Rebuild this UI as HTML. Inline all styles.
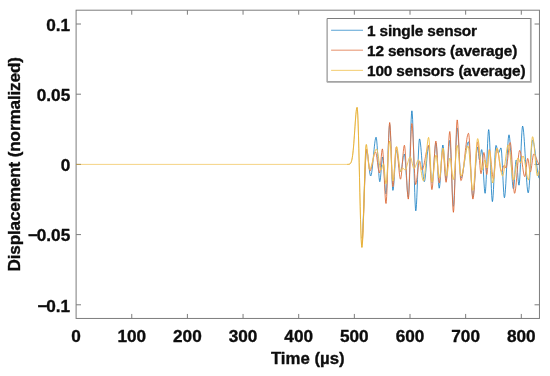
<!DOCTYPE html>
<html><head><meta charset="utf-8"><title>Displacement plot</title>
<style>html,body{margin:0;padding:0;background:#fff}svg{display:block}text{font-family:"Liberation Sans",sans-serif;font-weight:bold;fill:#0d0d0d;stroke:#0d0d0d;stroke-width:0.35px;stroke-linejoin:round}</style></head><body>
<svg width="550" height="376" viewBox="0 0 550 376">
<rect width="550" height="376" fill="#fff"/>
<g stroke="#7c7c7c" stroke-width="1.0" fill="none">
<rect x="76.1" y="10.2" width="463.35" height="308.25"/>
<path d="M131.75,318.45 v-4.5 M131.75,10.2 v4.5"/>
<path d="M187.40,318.45 v-4.5 M187.40,10.2 v4.5"/>
<path d="M243.05,318.45 v-4.5 M243.05,10.2 v4.5"/>
<path d="M298.70,318.45 v-4.5 M298.70,10.2 v4.5"/>
<path d="M354.35,318.45 v-4.5 M354.35,10.2 v4.5"/>
<path d="M410.00,318.45 v-4.5 M410.00,10.2 v4.5"/>
<path d="M465.65,318.45 v-4.5 M465.65,10.2 v4.5"/>
<path d="M521.30,318.45 v-4.5 M521.30,10.2 v4.5"/>
<path d="M76.1,24.00 h4.9 M539.45,24.00 h-4.9"/>
<path d="M76.1,94.20 h4.9 M539.45,94.20 h-4.9"/>
<path d="M76.1,164.40 h4.9 M539.45,164.40 h-4.9"/>
<path d="M76.1,234.60 h4.9 M539.45,234.60 h-4.9"/>
<path d="M76.1,304.80 h4.9 M539.45,304.80 h-4.9"/>
</g>
<clipPath id="c"><rect x="76.1" y="10.2" width="463.35" height="308.25"/></clipPath>
<g clip-path="url(#c)" fill="none" stroke-linejoin="round">
<path d="M361.90,238.00 L362.25,236.52 L362.61,232.39 L362.96,226.10 L363.32,218.13 L363.67,208.96 L364.02,199.07 L364.38,188.93 L364.73,179.04 L365.08,169.87 L365.44,161.90 L365.79,155.61 L366.15,151.48 L366.50,150.00 L366.85,150.51 L367.20,151.93 L367.55,154.06 L367.90,156.74 L368.25,159.78 L368.60,163.00 L368.95,166.22 L369.30,169.26 L369.65,171.94 L370.00,174.07 L370.35,175.49 L370.70,176.00 L371.04,175.56 L371.38,174.33 L371.71,172.42 L372.05,169.94 L372.39,167.00 L372.73,163.72 L373.06,160.22 L373.40,156.60 L373.74,152.98 L374.07,149.48 L374.41,146.20 L374.75,143.26 L375.09,140.78 L375.43,138.87 L375.76,137.64 L376.10,137.20 L376.44,138.24 L376.77,141.08 L377.11,145.32 L377.45,150.57 L377.78,156.42 L378.12,162.48 L378.45,168.33 L378.79,173.58 L379.13,177.82 L379.46,180.66 L379.80,181.70 L380.15,180.64 L380.50,177.84 L380.85,173.88 L381.20,169.35 L381.55,164.82 L381.90,160.86 L382.25,158.06 L382.60,157.00 L382.94,158.04 L383.28,160.85 L383.62,164.99 L383.96,170.02 L384.30,175.50 L384.64,180.98 L384.98,186.01 L385.32,190.15 L385.66,192.96 L386.00,194.00 L386.34,192.38 L386.67,187.94 L387.01,181.31 L387.35,173.11 L387.68,163.98 L388.02,154.52 L388.35,145.39 L388.69,137.19 L389.03,130.56 L389.36,126.12 L389.70,124.50 L390.06,126.76 L390.41,132.82 L390.77,141.59 L391.12,151.98 L391.48,162.92 L391.83,173.31 L392.19,182.08 L392.54,188.14 L392.90,190.40 L393.26,189.27 L393.62,186.20 L393.98,181.67 L394.34,176.18 L394.70,170.20 L395.06,164.22 L395.42,158.73 L395.78,154.20 L396.14,151.13 L396.50,150.00 L396.83,150.43 L397.17,151.63 L397.50,153.44 L397.83,155.70 L398.17,158.28 L398.50,161.00 L398.83,163.72 L399.17,166.30 L399.50,168.56 L399.83,170.37 L400.17,171.57 L400.50,172.00 L400.85,171.58 L401.19,170.43 L401.54,168.71 L401.88,166.59 L402.23,164.22 L402.57,161.78 L402.92,159.41 L403.26,157.29 L403.61,155.57 L403.95,154.42 L404.30,154.00 L404.63,154.85 L404.97,157.19 L405.30,160.72 L405.63,165.15 L405.97,170.17 L406.30,175.50 L406.63,180.83 L406.97,185.85 L407.30,190.28 L407.63,193.81 L407.97,196.15 L408.30,197.00 L408.66,194.59 L409.02,188.04 L409.38,178.38 L409.74,166.66 L410.10,153.90 L410.46,141.14 L410.82,129.42 L411.18,119.76 L411.54,113.21 L411.90,110.80 L412.25,113.13 L412.61,119.52 L412.96,129.06 L413.32,140.85 L413.67,154.00 L414.03,167.60 L414.38,180.75 L414.74,192.54 L415.09,202.08 L415.45,208.47 L415.80,210.80 L416.14,209.13 L416.47,204.53 L416.81,197.67 L417.15,189.19 L417.48,179.74 L417.82,169.96 L418.15,160.51 L418.49,152.03 L418.83,145.17 L419.16,140.57 L419.50,138.90 L419.84,139.52 L420.19,141.27 L420.53,143.94 L420.87,147.37 L421.21,151.35 L421.56,155.71 L421.90,160.25 L422.24,164.79 L422.59,169.15 L422.93,173.13 L423.27,176.56 L423.61,179.23 L423.96,180.98 L424.30,181.60 L424.66,180.90 L425.02,178.96 L425.38,176.04 L425.73,172.37 L426.09,168.21 L426.45,163.80 L426.81,159.39 L427.17,155.23 L427.53,151.56 L427.88,148.64 L428.24,146.70 L428.60,146.00 L428.94,147.04 L429.28,149.85 L429.62,153.99 L429.96,159.02 L430.30,164.50 L430.64,169.98 L430.98,175.01 L431.32,179.15 L431.66,181.96 L432.00,183.00 L432.33,182.21 L432.67,180.04 L433.00,176.75 L433.33,172.63 L433.67,167.95 L434.00,163.00 L434.33,158.05 L434.67,153.37 L435.00,149.25 L435.33,145.96 L435.67,143.79 L436.00,143.00 L436.36,144.55 L436.71,148.70 L437.07,154.72 L437.42,161.85 L437.78,169.35 L438.13,176.48 L438.49,182.50 L438.84,186.65 L439.20,188.20 L439.54,187.19 L439.87,184.44 L440.21,180.31 L440.55,175.22 L440.88,169.54 L441.22,163.66 L441.55,157.98 L441.89,152.89 L442.23,148.76 L442.56,146.01 L442.90,145.00 L443.26,146.20 L443.61,149.42 L443.97,154.07 L444.32,159.60 L444.68,165.40 L445.03,170.93 L445.39,175.58 L445.74,178.80 L446.10,180.00 L446.44,179.08 L446.77,176.54 L447.11,172.75 L447.45,168.07 L447.78,162.85 L448.12,157.45 L448.45,152.23 L448.79,147.55 L449.13,143.76 L449.46,141.22 L449.80,140.30 L450.16,142.15 L450.52,147.17 L450.88,154.58 L451.24,163.57 L451.60,173.35 L451.96,183.13 L452.32,192.12 L452.68,199.53 L453.04,204.55 L453.40,206.40 L453.75,204.57 L454.09,199.56 L454.44,192.07 L454.78,182.81 L455.13,172.49 L455.47,161.81 L455.82,151.49 L456.16,142.23 L456.51,134.74 L456.85,129.73 L457.20,127.90 L457.55,129.07 L457.89,132.27 L458.24,137.05 L458.58,142.96 L458.93,149.54 L459.27,156.36 L459.62,162.94 L459.96,168.85 L460.31,173.63 L460.65,176.83 L461.00,178.00 L461.34,177.78 L461.68,177.16 L462.02,176.16 L462.36,174.85 L462.70,173.24 L463.05,171.39 L463.39,169.34 L463.73,167.12 L464.07,164.78 L464.41,162.36 L464.75,159.90 L465.09,157.44 L465.43,155.02 L465.77,152.68 L466.11,150.46 L466.45,148.41 L466.80,146.56 L467.14,144.95 L467.48,143.64 L467.82,142.64 L468.16,142.02 L468.50,141.80 L468.84,142.73 L469.18,145.32 L469.52,149.26 L469.85,154.26 L470.19,160.02 L470.53,166.22 L470.87,172.58 L471.21,178.78 L471.55,184.54 L471.88,189.54 L472.22,193.48 L472.56,196.07 L472.90,197.00 L473.25,196.16 L473.61,193.81 L473.96,190.24 L474.32,185.71 L474.67,180.50 L475.02,174.88 L475.38,169.12 L475.73,163.50 L476.08,158.29 L476.44,153.76 L476.79,150.19 L477.15,147.84 L477.50,147.00 L477.83,147.96 L478.17,150.37 L478.50,153.50 L478.83,156.63 L479.17,159.04 L479.50,160.00 L479.87,159.23 L480.23,157.30 L480.60,154.80 L480.97,152.30 L481.33,150.37 L481.70,149.60 L482.04,150.82 L482.38,154.14 L482.72,159.04 L483.06,164.98 L483.40,171.45 L483.74,177.92 L484.08,183.86 L484.42,188.76 L484.76,192.08 L485.10,193.30 L485.46,191.52 L485.82,186.68 L486.18,179.54 L486.54,170.88 L486.90,161.45 L487.26,152.02 L487.62,143.36 L487.98,136.22 L488.34,131.38 L488.70,129.60 L489.04,131.28 L489.37,135.87 L489.71,142.75 L490.05,151.24 L490.38,160.70 L490.72,170.50 L491.05,179.96 L491.39,188.45 L491.73,195.33 L492.06,199.92 L492.40,201.60 L492.76,200.03 L493.12,195.76 L493.48,189.46 L493.84,181.82 L494.20,173.50 L494.56,165.18 L494.92,157.54 L495.28,151.24 L495.64,146.97 L496.00,145.40 L496.36,145.82 L496.71,146.91 L497.07,148.39 L497.43,150.01 L497.79,151.49 L498.14,152.58 L498.50,153.00 L498.86,152.72 L499.21,151.99 L499.57,150.99 L499.93,149.91 L500.29,148.91 L500.64,148.18 L501.00,147.90 L501.34,149.29 L501.68,153.08 L502.02,158.66 L502.36,165.43 L502.70,172.80 L503.04,180.17 L503.38,186.94 L503.72,192.52 L504.06,196.31 L504.40,197.70 L504.75,196.64 L505.11,193.69 L505.46,189.20 L505.82,183.50 L506.17,176.94 L506.52,169.87 L506.88,162.63 L507.23,155.56 L507.58,149.00 L507.94,143.30 L508.29,138.81 L508.65,135.86 L509.00,134.80 L509.34,135.71 L509.68,138.25 L510.02,142.11 L510.35,147.01 L510.69,152.65 L511.03,158.74 L511.37,164.96 L511.71,171.05 L512.05,176.69 L512.38,181.59 L512.72,185.45 L513.06,187.99 L513.40,188.90 L513.75,187.66 L514.10,184.38 L514.45,179.76 L514.80,174.45 L515.15,169.14 L515.50,164.52 L515.85,161.24 L516.20,160.00 L516.55,161.08 L516.90,163.94 L517.25,167.97 L517.60,172.60 L517.95,177.23 L518.30,181.26 L518.65,184.12 L519.00,185.20 L519.36,183.55 L519.72,179.05 L520.08,172.43 L520.44,164.40 L520.80,155.65 L521.16,146.90 L521.52,138.87 L521.88,132.25 L522.24,127.75 L522.60,126.10 L522.95,126.85 L523.30,128.97 L523.65,132.26 L524.00,136.52 L524.35,141.57 L524.70,147.20 L525.05,153.23 L525.40,159.45 L525.75,165.67 L526.10,171.70 L526.45,177.33 L526.80,182.38 L527.15,186.64 L527.50,189.93 L527.85,192.05 L528.20,192.80 L528.54,191.92 L528.88,189.45 L529.22,185.70 L529.55,180.95 L529.89,175.48 L530.23,169.57 L530.57,163.53 L530.91,157.62 L531.25,152.15 L531.58,147.40 L531.92,143.65 L532.26,141.18 L532.60,140.30 L532.95,140.58 L533.29,141.37 L533.63,142.62 L533.98,144.27 L534.33,146.27 L534.67,148.55 L535.01,151.06 L535.36,153.75 L535.71,156.54 L536.05,159.40 L536.39,162.26 L536.74,165.05 L537.09,167.74 L537.43,170.25 L537.77,172.53 L538.12,174.53 L538.47,176.18 L538.81,177.43 L539.15,178.22 L539.50,178.50" stroke="#0072BD" stroke-width="0.9" stroke-opacity="0.85"/>
<path d="M361.90,243.70 L362.24,242.32 L362.57,238.45 L362.91,232.52 L363.24,224.93 L363.58,216.09 L363.91,206.43 L364.25,196.35 L364.59,186.27 L364.92,176.61 L365.26,167.77 L365.59,160.18 L365.93,154.25 L366.26,150.38 L366.60,149.00 L366.94,149.61 L367.28,151.27 L367.62,153.71 L367.96,156.67 L368.30,159.90 L368.64,163.13 L368.98,166.09 L369.32,168.53 L369.66,170.19 L370.00,170.80 L370.34,170.59 L370.69,169.99 L371.03,169.07 L371.38,167.86 L371.72,166.44 L372.06,164.85 L372.41,163.15 L372.75,161.40 L373.09,159.65 L373.44,157.95 L373.78,156.36 L374.12,154.94 L374.47,153.73 L374.81,152.81 L375.16,152.21 L375.50,152.00 L375.83,152.41 L376.17,153.56 L376.50,155.28 L376.83,157.44 L377.17,159.90 L377.50,162.50 L377.83,165.10 L378.17,167.56 L378.50,169.72 L378.83,171.44 L379.17,172.59 L379.50,173.00 L379.86,171.96 L380.23,169.23 L380.59,165.37 L380.95,160.95 L381.31,156.53 L381.67,152.67 L382.04,149.94 L382.40,148.90 L382.76,150.43 L383.12,154.58 L383.48,160.69 L383.84,168.12 L384.20,176.20 L384.56,184.28 L384.92,191.71 L385.28,197.82 L385.64,201.97 L386.00,203.50 L386.34,201.61 L386.67,196.44 L387.01,188.71 L387.35,179.16 L387.68,168.51 L388.02,157.49 L388.35,146.84 L388.69,137.29 L389.03,129.56 L389.36,124.39 L389.70,122.50 L390.06,124.70 L390.41,130.60 L390.77,139.14 L391.12,149.27 L391.48,159.93 L391.83,170.06 L392.19,178.60 L392.54,184.50 L392.90,186.70 L393.24,185.59 L393.58,182.57 L393.92,178.12 L394.26,172.73 L394.60,166.85 L394.94,160.97 L395.28,155.58 L395.62,151.13 L395.96,148.11 L396.30,147.00 L396.65,147.63 L397.00,149.39 L397.35,152.03 L397.70,155.35 L398.05,159.11 L398.40,163.10 L398.75,167.09 L399.10,170.85 L399.45,174.17 L399.80,176.81 L400.15,178.57 L400.50,179.20 L400.85,178.41 L401.21,176.25 L401.56,173.01 L401.92,169.01 L402.27,164.55 L402.63,159.95 L402.98,155.49 L403.34,151.49 L403.69,148.25 L404.05,146.09 L404.40,145.30 L404.75,146.55 L405.11,149.99 L405.46,155.12 L405.82,161.47 L406.17,168.54 L406.53,175.86 L406.88,182.93 L407.24,189.28 L407.59,194.41 L407.95,197.85 L408.30,199.10 L408.66,196.98 L409.02,191.24 L409.38,182.77 L409.74,172.49 L410.10,161.30 L410.46,150.11 L410.82,139.83 L411.18,131.36 L411.54,125.62 L411.90,123.50 L412.24,124.92 L412.57,128.82 L412.91,134.64 L413.25,141.83 L413.58,149.85 L413.92,158.15 L414.25,166.17 L414.59,173.36 L414.93,179.18 L415.26,183.08 L415.60,184.50 L415.95,183.95 L416.31,182.45 L416.66,180.21 L417.02,177.44 L417.37,174.35 L417.73,171.15 L418.08,168.06 L418.44,165.29 L418.79,163.05 L419.15,161.55 L419.50,161.00 L419.86,161.50 L420.21,162.78 L420.57,164.54 L420.93,166.46 L421.29,168.22 L421.64,169.50 L422.00,170.00 L422.35,169.80 L422.69,169.24 L423.04,168.35 L423.39,167.19 L423.74,165.79 L424.08,164.19 L424.43,162.44 L424.78,160.59 L425.13,158.67 L425.47,156.73 L425.82,154.81 L426.17,152.96 L426.52,151.21 L426.86,149.61 L427.21,148.21 L427.56,147.05 L427.91,146.16 L428.25,145.60 L428.60,145.40 L428.97,146.92 L429.33,150.98 L429.70,156.86 L430.07,163.83 L430.43,171.17 L430.80,178.14 L431.17,184.02 L431.53,188.08 L431.90,189.60 L432.23,188.65 L432.57,186.01 L432.90,182.02 L433.23,177.03 L433.57,171.36 L433.90,165.35 L434.23,159.34 L434.57,153.67 L434.90,148.68 L435.23,144.69 L435.57,142.05 L435.90,141.10 L436.27,142.54 L436.63,146.39 L437.00,151.96 L437.37,158.57 L437.73,165.53 L438.10,172.14 L438.47,177.71 L438.83,181.56 L439.20,183.00 L439.54,182.23 L439.87,180.12 L440.21,176.98 L440.55,173.08 L440.88,168.74 L441.22,164.26 L441.55,159.92 L441.89,156.02 L442.23,152.88 L442.56,150.77 L442.90,150.00 L443.26,151.11 L443.61,154.08 L443.97,158.37 L444.32,163.47 L444.68,168.83 L445.03,173.93 L445.39,178.22 L445.74,181.19 L446.10,182.30 L446.44,181.12 L446.77,177.87 L447.11,173.03 L447.45,167.03 L447.78,160.35 L448.12,153.45 L448.45,146.77 L448.79,140.77 L449.13,135.93 L449.46,132.68 L449.80,131.50 L450.16,133.76 L450.52,139.90 L450.88,148.95 L451.24,159.94 L451.60,171.90 L451.96,183.86 L452.32,194.85 L452.68,203.90 L453.04,210.04 L453.40,212.30 L453.75,210.15 L454.09,204.25 L454.44,195.43 L454.78,184.53 L455.13,172.38 L455.47,159.82 L455.82,147.67 L456.16,136.77 L456.51,127.95 L456.85,122.05 L457.20,119.90 L457.54,121.31 L457.87,125.19 L458.21,130.98 L458.55,138.14 L458.88,146.12 L459.22,154.38 L459.55,162.36 L459.89,169.52 L460.23,175.31 L460.56,179.19 L460.90,180.60 L461.25,180.32 L461.59,179.50 L461.94,178.20 L462.28,176.48 L462.63,174.38 L462.97,171.96 L463.32,169.28 L463.66,166.39 L464.01,163.33 L464.35,160.17 L464.70,156.95 L465.05,153.73 L465.39,150.57 L465.74,147.51 L466.08,144.62 L466.43,141.94 L466.77,139.52 L467.12,137.42 L467.46,135.70 L467.81,134.40 L468.15,133.58 L468.50,133.30 L468.84,134.41 L469.18,137.49 L469.52,142.20 L469.85,148.16 L470.19,155.01 L470.53,162.41 L470.87,169.99 L471.21,177.39 L471.55,184.24 L471.88,190.20 L472.22,194.91 L472.56,197.99 L472.90,199.10 L473.24,198.26 L473.59,195.93 L473.93,192.33 L474.27,187.74 L474.61,182.39 L474.96,176.55 L475.30,170.45 L475.64,164.35 L475.99,158.51 L476.33,153.16 L476.67,148.57 L477.01,144.97 L477.36,142.64 L477.70,141.80 L478.07,142.89 L478.43,145.83 L478.80,150.07 L479.17,155.10 L479.53,160.40 L479.90,165.43 L480.27,169.67 L480.63,172.61 L481.00,173.70 L481.36,172.79 L481.73,170.39 L482.09,166.99 L482.45,163.10 L482.81,159.21 L483.17,155.81 L483.54,153.41 L483.90,152.50 L484.26,153.45 L484.62,155.94 L484.99,159.46 L485.35,163.50 L485.71,167.54 L486.07,171.06 L486.44,173.55 L486.80,174.50 L487.16,173.12 L487.51,169.56 L487.87,164.70 L488.23,159.40 L488.59,154.54 L488.94,150.98 L489.30,149.60 L489.64,150.18 L489.98,151.77 L490.32,154.18 L490.67,157.20 L491.01,160.62 L491.35,164.25 L491.69,167.88 L492.03,171.30 L492.38,174.32 L492.72,176.73 L493.06,178.32 L493.40,178.90 L493.76,178.05 L494.12,175.73 L494.48,172.31 L494.84,168.16 L495.20,163.65 L495.56,159.14 L495.92,154.99 L496.28,151.57 L496.64,149.25 L497.00,148.40 L497.34,148.79 L497.68,149.87 L498.02,151.52 L498.35,153.62 L498.69,156.02 L499.03,158.62 L499.37,161.28 L499.71,163.88 L500.05,166.28 L500.38,168.38 L500.72,170.03 L501.06,171.11 L501.40,171.50 L501.73,171.28 L502.07,170.68 L502.40,169.81 L502.73,168.79 L503.07,167.71 L503.40,166.69 L503.73,165.82 L504.07,165.22 L504.40,165.00 L504.80,165.47 L505.20,166.50 L505.60,167.53 L506.00,168.00 L506.35,167.50 L506.70,166.11 L507.05,164.02 L507.40,161.39 L507.75,158.41 L508.10,155.25 L508.45,152.09 L508.80,149.11 L509.15,146.48 L509.50,144.39 L509.85,143.00 L510.20,142.50 L510.54,143.36 L510.88,145.74 L511.22,149.37 L511.55,153.97 L511.89,159.26 L512.23,164.98 L512.57,170.82 L512.91,176.54 L513.25,181.83 L513.58,186.43 L513.92,190.06 L514.26,192.44 L514.60,193.30 L514.94,192.75 L515.28,191.22 L515.62,188.84 L515.96,185.78 L516.30,182.18 L516.64,178.20 L516.98,173.99 L517.32,169.71 L517.66,165.50 L518.00,161.52 L518.34,157.92 L518.68,154.86 L519.02,152.48 L519.36,150.95 L519.70,150.40 L520.04,150.74 L520.38,151.68 L520.72,153.14 L521.06,155.01 L521.40,157.22 L521.74,159.66 L522.08,162.24 L522.42,164.86 L522.76,167.44 L523.10,169.88 L523.44,172.09 L523.78,173.96 L524.12,175.42 L524.46,176.36 L524.80,176.70 L525.16,175.91 L525.52,173.84 L525.89,170.91 L526.25,167.55 L526.61,164.19 L526.98,161.26 L527.34,159.19 L527.70,158.40 L528.07,159.15 L528.44,161.10 L528.81,163.75 L529.19,166.65 L529.56,169.30 L529.93,171.25 L530.30,172.00 L530.65,171.50 L531.00,170.13 L531.35,168.11 L531.70,165.66 L532.05,163.00 L532.40,160.34 L532.75,157.89 L533.10,155.87 L533.45,154.50 L533.80,154.00 L534.14,154.10 L534.47,154.40 L534.81,154.86 L535.14,155.46 L535.48,156.17 L535.81,156.97 L536.15,157.84 L536.48,158.74 L536.82,159.66 L537.15,160.56 L537.49,161.43 L537.82,162.23 L538.16,162.94 L538.49,163.54 L538.83,164.00 L539.16,164.30 L539.50,164.40" stroke="#fff" stroke-width="0.9" stroke-opacity="0.7"/>
<path d="M361.90,243.70 L362.24,242.32 L362.57,238.45 L362.91,232.52 L363.24,224.93 L363.58,216.09 L363.91,206.43 L364.25,196.35 L364.59,186.27 L364.92,176.61 L365.26,167.77 L365.59,160.18 L365.93,154.25 L366.26,150.38 L366.60,149.00 L366.94,149.61 L367.28,151.27 L367.62,153.71 L367.96,156.67 L368.30,159.90 L368.64,163.13 L368.98,166.09 L369.32,168.53 L369.66,170.19 L370.00,170.80 L370.34,170.59 L370.69,169.99 L371.03,169.07 L371.38,167.86 L371.72,166.44 L372.06,164.85 L372.41,163.15 L372.75,161.40 L373.09,159.65 L373.44,157.95 L373.78,156.36 L374.12,154.94 L374.47,153.73 L374.81,152.81 L375.16,152.21 L375.50,152.00 L375.83,152.41 L376.17,153.56 L376.50,155.28 L376.83,157.44 L377.17,159.90 L377.50,162.50 L377.83,165.10 L378.17,167.56 L378.50,169.72 L378.83,171.44 L379.17,172.59 L379.50,173.00 L379.86,171.96 L380.23,169.23 L380.59,165.37 L380.95,160.95 L381.31,156.53 L381.67,152.67 L382.04,149.94 L382.40,148.90 L382.76,150.43 L383.12,154.58 L383.48,160.69 L383.84,168.12 L384.20,176.20 L384.56,184.28 L384.92,191.71 L385.28,197.82 L385.64,201.97 L386.00,203.50 L386.34,201.61 L386.67,196.44 L387.01,188.71 L387.35,179.16 L387.68,168.51 L388.02,157.49 L388.35,146.84 L388.69,137.29 L389.03,129.56 L389.36,124.39 L389.70,122.50 L390.06,124.70 L390.41,130.60 L390.77,139.14 L391.12,149.27 L391.48,159.93 L391.83,170.06 L392.19,178.60 L392.54,184.50 L392.90,186.70 L393.24,185.59 L393.58,182.57 L393.92,178.12 L394.26,172.73 L394.60,166.85 L394.94,160.97 L395.28,155.58 L395.62,151.13 L395.96,148.11 L396.30,147.00 L396.65,147.63 L397.00,149.39 L397.35,152.03 L397.70,155.35 L398.05,159.11 L398.40,163.10 L398.75,167.09 L399.10,170.85 L399.45,174.17 L399.80,176.81 L400.15,178.57 L400.50,179.20 L400.85,178.41 L401.21,176.25 L401.56,173.01 L401.92,169.01 L402.27,164.55 L402.63,159.95 L402.98,155.49 L403.34,151.49 L403.69,148.25 L404.05,146.09 L404.40,145.30 L404.75,146.55 L405.11,149.99 L405.46,155.12 L405.82,161.47 L406.17,168.54 L406.53,175.86 L406.88,182.93 L407.24,189.28 L407.59,194.41 L407.95,197.85 L408.30,199.10 L408.66,196.98 L409.02,191.24 L409.38,182.77 L409.74,172.49 L410.10,161.30 L410.46,150.11 L410.82,139.83 L411.18,131.36 L411.54,125.62 L411.90,123.50 L412.24,124.92 L412.57,128.82 L412.91,134.64 L413.25,141.83 L413.58,149.85 L413.92,158.15 L414.25,166.17 L414.59,173.36 L414.93,179.18 L415.26,183.08 L415.60,184.50 L415.95,183.95 L416.31,182.45 L416.66,180.21 L417.02,177.44 L417.37,174.35 L417.73,171.15 L418.08,168.06 L418.44,165.29 L418.79,163.05 L419.15,161.55 L419.50,161.00 L419.86,161.50 L420.21,162.78 L420.57,164.54 L420.93,166.46 L421.29,168.22 L421.64,169.50 L422.00,170.00 L422.35,169.80 L422.69,169.24 L423.04,168.35 L423.39,167.19 L423.74,165.79 L424.08,164.19 L424.43,162.44 L424.78,160.59 L425.13,158.67 L425.47,156.73 L425.82,154.81 L426.17,152.96 L426.52,151.21 L426.86,149.61 L427.21,148.21 L427.56,147.05 L427.91,146.16 L428.25,145.60 L428.60,145.40 L428.97,146.92 L429.33,150.98 L429.70,156.86 L430.07,163.83 L430.43,171.17 L430.80,178.14 L431.17,184.02 L431.53,188.08 L431.90,189.60 L432.23,188.65 L432.57,186.01 L432.90,182.02 L433.23,177.03 L433.57,171.36 L433.90,165.35 L434.23,159.34 L434.57,153.67 L434.90,148.68 L435.23,144.69 L435.57,142.05 L435.90,141.10 L436.27,142.54 L436.63,146.39 L437.00,151.96 L437.37,158.57 L437.73,165.53 L438.10,172.14 L438.47,177.71 L438.83,181.56 L439.20,183.00 L439.54,182.23 L439.87,180.12 L440.21,176.98 L440.55,173.08 L440.88,168.74 L441.22,164.26 L441.55,159.92 L441.89,156.02 L442.23,152.88 L442.56,150.77 L442.90,150.00 L443.26,151.11 L443.61,154.08 L443.97,158.37 L444.32,163.47 L444.68,168.83 L445.03,173.93 L445.39,178.22 L445.74,181.19 L446.10,182.30 L446.44,181.12 L446.77,177.87 L447.11,173.03 L447.45,167.03 L447.78,160.35 L448.12,153.45 L448.45,146.77 L448.79,140.77 L449.13,135.93 L449.46,132.68 L449.80,131.50 L450.16,133.76 L450.52,139.90 L450.88,148.95 L451.24,159.94 L451.60,171.90 L451.96,183.86 L452.32,194.85 L452.68,203.90 L453.04,210.04 L453.40,212.30 L453.75,210.15 L454.09,204.25 L454.44,195.43 L454.78,184.53 L455.13,172.38 L455.47,159.82 L455.82,147.67 L456.16,136.77 L456.51,127.95 L456.85,122.05 L457.20,119.90 L457.54,121.31 L457.87,125.19 L458.21,130.98 L458.55,138.14 L458.88,146.12 L459.22,154.38 L459.55,162.36 L459.89,169.52 L460.23,175.31 L460.56,179.19 L460.90,180.60 L461.25,180.32 L461.59,179.50 L461.94,178.20 L462.28,176.48 L462.63,174.38 L462.97,171.96 L463.32,169.28 L463.66,166.39 L464.01,163.33 L464.35,160.17 L464.70,156.95 L465.05,153.73 L465.39,150.57 L465.74,147.51 L466.08,144.62 L466.43,141.94 L466.77,139.52 L467.12,137.42 L467.46,135.70 L467.81,134.40 L468.15,133.58 L468.50,133.30 L468.84,134.41 L469.18,137.49 L469.52,142.20 L469.85,148.16 L470.19,155.01 L470.53,162.41 L470.87,169.99 L471.21,177.39 L471.55,184.24 L471.88,190.20 L472.22,194.91 L472.56,197.99 L472.90,199.10 L473.24,198.26 L473.59,195.93 L473.93,192.33 L474.27,187.74 L474.61,182.39 L474.96,176.55 L475.30,170.45 L475.64,164.35 L475.99,158.51 L476.33,153.16 L476.67,148.57 L477.01,144.97 L477.36,142.64 L477.70,141.80 L478.07,142.89 L478.43,145.83 L478.80,150.07 L479.17,155.10 L479.53,160.40 L479.90,165.43 L480.27,169.67 L480.63,172.61 L481.00,173.70 L481.36,172.79 L481.73,170.39 L482.09,166.99 L482.45,163.10 L482.81,159.21 L483.17,155.81 L483.54,153.41 L483.90,152.50 L484.26,153.45 L484.62,155.94 L484.99,159.46 L485.35,163.50 L485.71,167.54 L486.07,171.06 L486.44,173.55 L486.80,174.50 L487.16,173.12 L487.51,169.56 L487.87,164.70 L488.23,159.40 L488.59,154.54 L488.94,150.98 L489.30,149.60 L489.64,150.18 L489.98,151.77 L490.32,154.18 L490.67,157.20 L491.01,160.62 L491.35,164.25 L491.69,167.88 L492.03,171.30 L492.38,174.32 L492.72,176.73 L493.06,178.32 L493.40,178.90 L493.76,178.05 L494.12,175.73 L494.48,172.31 L494.84,168.16 L495.20,163.65 L495.56,159.14 L495.92,154.99 L496.28,151.57 L496.64,149.25 L497.00,148.40 L497.34,148.79 L497.68,149.87 L498.02,151.52 L498.35,153.62 L498.69,156.02 L499.03,158.62 L499.37,161.28 L499.71,163.88 L500.05,166.28 L500.38,168.38 L500.72,170.03 L501.06,171.11 L501.40,171.50 L501.73,171.28 L502.07,170.68 L502.40,169.81 L502.73,168.79 L503.07,167.71 L503.40,166.69 L503.73,165.82 L504.07,165.22 L504.40,165.00 L504.80,165.47 L505.20,166.50 L505.60,167.53 L506.00,168.00 L506.35,167.50 L506.70,166.11 L507.05,164.02 L507.40,161.39 L507.75,158.41 L508.10,155.25 L508.45,152.09 L508.80,149.11 L509.15,146.48 L509.50,144.39 L509.85,143.00 L510.20,142.50 L510.54,143.36 L510.88,145.74 L511.22,149.37 L511.55,153.97 L511.89,159.26 L512.23,164.98 L512.57,170.82 L512.91,176.54 L513.25,181.83 L513.58,186.43 L513.92,190.06 L514.26,192.44 L514.60,193.30 L514.94,192.75 L515.28,191.22 L515.62,188.84 L515.96,185.78 L516.30,182.18 L516.64,178.20 L516.98,173.99 L517.32,169.71 L517.66,165.50 L518.00,161.52 L518.34,157.92 L518.68,154.86 L519.02,152.48 L519.36,150.95 L519.70,150.40 L520.04,150.74 L520.38,151.68 L520.72,153.14 L521.06,155.01 L521.40,157.22 L521.74,159.66 L522.08,162.24 L522.42,164.86 L522.76,167.44 L523.10,169.88 L523.44,172.09 L523.78,173.96 L524.12,175.42 L524.46,176.36 L524.80,176.70 L525.16,175.91 L525.52,173.84 L525.89,170.91 L526.25,167.55 L526.61,164.19 L526.98,161.26 L527.34,159.19 L527.70,158.40 L528.07,159.15 L528.44,161.10 L528.81,163.75 L529.19,166.65 L529.56,169.30 L529.93,171.25 L530.30,172.00 L530.65,171.50 L531.00,170.13 L531.35,168.11 L531.70,165.66 L532.05,163.00 L532.40,160.34 L532.75,157.89 L533.10,155.87 L533.45,154.50 L533.80,154.00 L534.14,154.10 L534.47,154.40 L534.81,154.86 L535.14,155.46 L535.48,156.17 L535.81,156.97 L536.15,157.84 L536.48,158.74 L536.82,159.66 L537.15,160.56 L537.49,161.43 L537.82,162.23 L538.16,162.94 L538.49,163.54 L538.83,164.00 L539.16,164.30 L539.50,164.40" stroke="#D95319" stroke-width="0.9" stroke-opacity="0.85"/>
<path d="M347.50,164.39 L347.80,164.38 L348.10,164.37 L348.40,164.35 L348.70,164.31 L349.00,164.26 L349.30,164.19 L349.60,164.07 L349.90,163.91 L350.20,163.68 L350.50,163.36 L350.80,162.91 L351.10,162.31 L351.40,161.51 L351.70,160.48 L352.00,159.17 L352.30,157.53 L352.60,155.52 L352.90,153.12 L353.20,150.30 L353.50,147.06 L353.80,143.43 L354.10,139.46 L354.40,135.22 L354.70,130.81 L355.00,126.38 L355.30,122.07 L355.60,118.04 L355.90,114.46 L356.20,111.49 L356.50,109.25 L356.80,107.87 L357.10,107.40 L357.44,109.44 L357.79,115.16 L358.13,123.93 L358.47,135.16 L358.81,148.22 L359.16,162.50 L359.50,177.40 L359.84,192.30 L360.19,206.58 L360.53,219.64 L360.87,230.87 L361.21,239.64 L361.56,245.36 L361.90,247.40 L362.24,245.67 L362.58,240.84 L362.92,233.49 L363.25,224.17 L363.59,213.44 L363.93,201.87 L364.27,190.03 L364.61,178.46 L364.95,167.73 L365.28,158.41 L365.62,151.06 L365.96,146.23 L366.30,144.50 L366.66,145.35 L367.01,147.64 L367.37,150.96 L367.72,154.88 L368.08,159.02 L368.43,162.94 L368.79,166.26 L369.14,168.55 L369.50,169.40 L369.83,169.27 L370.17,168.88 L370.50,168.27 L370.83,167.46 L371.17,166.48 L371.50,165.36 L371.83,164.11 L372.17,162.77 L372.50,161.37 L372.83,159.93 L373.17,158.47 L373.50,157.03 L373.83,155.63 L374.17,154.29 L374.50,153.04 L374.83,151.92 L375.17,150.94 L375.50,150.13 L375.83,149.52 L376.17,149.13 L376.50,149.00 L376.85,149.35 L377.19,150.34 L377.54,151.84 L377.88,153.74 L378.23,155.93 L378.58,158.29 L378.92,160.71 L379.27,163.07 L379.62,165.26 L379.96,167.16 L380.31,168.66 L380.65,169.65 L381.00,170.00 L381.36,169.67 L381.71,168.81 L382.07,167.64 L382.43,166.36 L382.79,165.19 L383.14,164.33 L383.50,164.00 L383.86,165.10 L384.21,167.93 L384.57,171.79 L384.93,176.01 L385.29,179.87 L385.64,182.70 L386.00,183.80 L386.34,182.80 L386.67,180.07 L387.01,175.99 L387.35,170.94 L387.68,165.31 L388.02,159.49 L388.35,153.86 L388.69,148.81 L389.03,144.73 L389.36,142.00 L389.70,141.00 L390.07,142.37 L390.43,146.05 L390.80,151.37 L391.17,157.68 L391.53,164.32 L391.90,170.63 L392.27,175.95 L392.63,179.63 L393.00,181.00 L393.36,180.03 L393.72,177.41 L394.08,173.55 L394.44,168.86 L394.80,163.75 L395.16,158.64 L395.52,153.95 L395.88,150.09 L396.24,147.47 L396.60,146.50 L396.94,146.99 L397.28,148.35 L397.62,150.41 L397.97,152.98 L398.31,155.90 L398.65,159.00 L398.99,162.10 L399.33,165.02 L399.68,167.59 L400.02,169.65 L400.36,171.01 L400.70,171.50 L401.05,171.24 L401.40,170.59 L401.75,169.75 L402.10,168.91 L402.45,168.26 L402.80,168.00 L403.17,168.15 L403.53,168.52 L403.90,169.00 L404.27,169.48 L404.63,169.85 L405.00,170.00 L405.35,169.83 L405.69,169.36 L406.04,168.64 L406.39,167.70 L406.73,166.60 L407.08,165.39 L407.43,164.10 L407.77,162.80 L408.12,161.51 L408.47,160.30 L408.81,159.20 L409.16,158.26 L409.51,157.54 L409.85,157.07 L410.20,156.90 L410.55,157.17 L410.89,157.91 L411.24,159.02 L411.58,160.39 L411.93,161.91 L412.27,163.49 L412.62,165.01 L412.96,166.38 L413.31,167.49 L413.65,168.23 L414.00,168.50 L414.35,168.36 L414.69,167.96 L415.04,167.35 L415.38,166.58 L415.73,165.70 L416.08,164.74 L416.42,163.76 L416.77,162.80 L417.12,161.92 L417.46,161.15 L417.81,160.54 L418.15,160.14 L418.50,160.00 L418.83,160.27 L419.17,161.02 L419.50,162.18 L419.83,163.68 L420.17,165.44 L420.50,167.39 L420.83,169.45 L421.17,171.55 L421.50,173.61 L421.83,175.56 L422.17,177.32 L422.50,178.82 L422.83,179.98 L423.17,180.73 L423.50,181.00 L423.84,180.44 L424.18,178.88 L424.52,176.47 L424.86,173.35 L425.20,169.70 L425.54,165.65 L425.88,161.38 L426.22,157.02 L426.56,152.75 L426.90,148.70 L427.24,145.05 L427.58,141.93 L427.92,139.52 L428.26,137.96 L428.60,137.40 L428.94,138.66 L429.28,142.07 L429.62,147.10 L429.96,153.20 L430.30,159.85 L430.64,166.50 L430.98,172.60 L431.32,177.63 L431.66,181.04 L432.00,182.30 L432.33,181.76 L432.67,180.28 L433.00,178.03 L433.33,175.22 L433.67,172.03 L434.00,168.65 L434.33,165.27 L434.67,162.08 L435.00,159.27 L435.33,157.02 L435.67,155.54 L436.00,155.00 L436.35,155.64 L436.70,157.39 L437.05,159.97 L437.40,163.10 L437.75,166.50 L438.10,169.90 L438.45,173.03 L438.80,175.61 L439.15,177.36 L439.50,178.00 L439.85,177.16 L440.20,174.88 L440.55,171.52 L440.90,167.44 L441.25,163.00 L441.60,158.56 L441.95,154.48 L442.30,151.12 L442.65,148.84 L443.00,148.00 L443.35,148.78 L443.70,150.91 L444.05,154.05 L444.40,157.86 L444.75,162.00 L445.10,166.14 L445.45,169.95 L445.80,173.09 L446.15,175.22 L446.50,176.00 L446.85,175.50 L447.20,174.13 L447.55,172.11 L447.90,169.66 L448.25,167.00 L448.60,164.34 L448.95,161.89 L449.30,159.87 L449.65,158.50 L450.00,158.00 L450.34,158.60 L450.68,160.24 L451.02,162.64 L451.36,165.57 L451.70,168.75 L452.04,171.93 L452.38,174.86 L452.72,177.26 L453.06,178.90 L453.40,179.50 L453.75,178.71 L454.09,176.53 L454.44,173.27 L454.78,169.25 L455.13,164.77 L455.47,160.13 L455.82,155.65 L456.16,151.63 L456.51,148.37 L456.85,146.19 L457.20,145.40 L457.55,146.11 L457.89,148.07 L458.24,150.99 L458.58,154.60 L458.93,158.62 L459.27,162.78 L459.62,166.80 L459.96,170.41 L460.31,173.33 L460.65,175.29 L461.00,176.00 L461.33,175.80 L461.67,175.24 L462.00,174.34 L462.33,173.15 L462.67,171.71 L463.00,170.05 L463.33,168.22 L463.67,166.26 L464.00,164.19 L464.33,162.07 L464.67,159.93 L465.00,157.81 L465.33,155.74 L465.67,153.78 L466.00,151.95 L466.33,150.29 L466.67,148.85 L467.00,147.66 L467.33,146.76 L467.67,146.20 L468.00,146.00 L468.35,146.65 L468.70,148.46 L469.05,151.24 L469.40,154.80 L469.75,158.94 L470.10,163.48 L470.45,168.20 L470.80,172.92 L471.15,177.46 L471.50,181.60 L471.85,185.16 L472.20,187.94 L472.55,189.75 L472.90,190.40 L473.24,189.64 L473.59,187.53 L473.93,184.28 L474.27,180.13 L474.61,175.30 L474.96,170.01 L475.30,164.50 L475.64,158.99 L475.99,153.70 L476.33,148.87 L476.67,144.72 L477.01,141.47 L477.36,139.36 L477.70,138.60 L478.06,139.22 L478.42,140.93 L478.77,143.51 L479.13,146.74 L479.49,150.41 L479.85,154.30 L480.21,158.19 L480.57,161.86 L480.93,165.09 L481.28,167.67 L481.64,169.38 L482.00,170.00 L482.33,169.66 L482.67,168.74 L483.00,167.41 L483.33,165.83 L483.67,164.17 L484.00,162.59 L484.33,161.26 L484.67,160.34 L485.00,160.00 L485.33,160.59 L485.67,162.07 L486.00,164.00 L486.33,165.93 L486.67,167.41 L487.00,168.00 L487.36,167.00 L487.71,164.43 L488.07,160.92 L488.43,157.08 L488.79,153.57 L489.14,151.00 L489.50,150.00 L489.84,151.13 L490.19,154.16 L490.53,158.56 L490.88,163.76 L491.22,169.24 L491.57,174.44 L491.91,178.84 L492.26,181.87 L492.60,183.00 L492.94,182.42 L493.28,180.80 L493.62,178.32 L493.95,175.19 L494.29,171.58 L494.63,167.69 L494.97,163.71 L495.31,159.82 L495.65,156.21 L495.98,153.08 L496.32,150.60 L496.66,148.98 L497.00,148.40 L497.34,148.71 L497.69,149.59 L498.03,150.95 L498.38,152.71 L498.72,154.80 L499.06,157.13 L499.41,159.63 L499.75,162.20 L500.09,164.77 L500.44,167.27 L500.78,169.60 L501.12,171.69 L501.47,173.45 L501.81,174.81 L502.16,175.69 L502.50,176.00 L502.84,175.69 L503.18,174.80 L503.52,173.42 L503.86,171.62 L504.21,169.47 L504.55,167.06 L504.89,164.45 L505.23,161.73 L505.57,158.97 L505.91,156.25 L506.25,153.64 L506.59,151.23 L506.94,149.08 L507.28,147.28 L507.62,145.90 L507.96,145.01 L508.30,144.70 L508.65,145.15 L508.99,146.42 L509.34,148.37 L509.69,150.89 L510.03,153.85 L510.38,157.13 L510.73,160.59 L511.07,164.11 L511.42,167.57 L511.77,170.85 L512.11,173.81 L512.46,176.33 L512.81,178.28 L513.15,179.55 L513.50,180.00 L513.85,179.63 L514.19,178.60 L514.54,177.03 L514.88,175.03 L515.23,172.74 L515.58,170.27 L515.92,167.73 L516.27,165.26 L516.62,162.97 L516.96,160.97 L517.31,159.40 L517.65,158.37 L518.00,158.00 L518.36,158.28 L518.71,158.99 L519.07,159.97 L519.43,161.03 L519.79,162.01 L520.14,162.72 L520.50,163.00 L520.86,162.61 L521.21,161.61 L521.57,160.24 L521.93,158.76 L522.29,157.39 L522.64,156.39 L523.00,156.00 L523.34,156.27 L523.69,157.03 L524.03,158.21 L524.38,159.75 L524.72,161.57 L525.06,163.59 L525.41,165.76 L525.75,168.00 L526.09,170.24 L526.44,172.41 L526.78,174.43 L527.12,176.25 L527.47,177.79 L527.81,178.97 L528.16,179.73 L528.50,180.00 L528.84,179.15 L529.18,176.79 L529.52,173.23 L529.87,168.77 L530.21,163.71 L530.55,158.35 L530.89,152.99 L531.23,147.93 L531.58,143.47 L531.92,139.91 L532.26,137.55 L532.60,136.70 L532.95,137.27 L533.30,138.88 L533.65,141.34 L534.00,144.49 L534.35,148.16 L534.70,152.17 L535.05,156.35 L535.40,160.53 L535.75,164.54 L536.10,168.21 L536.45,171.36 L536.80,173.82 L537.15,175.43 L537.50,176.00 L537.83,175.56 L538.17,174.44 L538.50,173.00 L538.83,171.56 L539.17,170.44 L539.50,170.00" stroke="#fff" stroke-width="0.9" stroke-opacity="0.7"/>
<path d="M347.50,164.39 L347.80,164.38 L348.10,164.37 L348.40,164.35 L348.70,164.31 L349.00,164.26 L349.30,164.19 L349.60,164.07 L349.90,163.91 L350.20,163.68 L350.50,163.36 L350.80,162.91 L351.10,162.31 L351.40,161.51 L351.70,160.48 L352.00,159.17 L352.30,157.53 L352.60,155.52 L352.90,153.12 L353.20,150.30 L353.50,147.06 L353.80,143.43 L354.10,139.46 L354.40,135.22 L354.70,130.81 L355.00,126.38 L355.30,122.07 L355.60,118.04 L355.90,114.46 L356.20,111.49 L356.50,109.25 L356.80,107.87 L357.10,107.40 L357.44,109.44 L357.79,115.16 L358.13,123.93 L358.47,135.16 L358.81,148.22 L359.16,162.50 L359.50,177.40 L359.84,192.30 L360.19,206.58 L360.53,219.64 L360.87,230.87 L361.21,239.64 L361.56,245.36 L361.90,247.40 L362.24,245.67 L362.58,240.84 L362.92,233.49 L363.25,224.17 L363.59,213.44 L363.93,201.87 L364.27,190.03 L364.61,178.46 L364.95,167.73 L365.28,158.41 L365.62,151.06 L365.96,146.23 L366.30,144.50 L366.66,145.35 L367.01,147.64 L367.37,150.96 L367.72,154.88 L368.08,159.02 L368.43,162.94 L368.79,166.26 L369.14,168.55 L369.50,169.40 L369.83,169.27 L370.17,168.88 L370.50,168.27 L370.83,167.46 L371.17,166.48 L371.50,165.36 L371.83,164.11 L372.17,162.77 L372.50,161.37 L372.83,159.93 L373.17,158.47 L373.50,157.03 L373.83,155.63 L374.17,154.29 L374.50,153.04 L374.83,151.92 L375.17,150.94 L375.50,150.13 L375.83,149.52 L376.17,149.13 L376.50,149.00 L376.85,149.35 L377.19,150.34 L377.54,151.84 L377.88,153.74 L378.23,155.93 L378.58,158.29 L378.92,160.71 L379.27,163.07 L379.62,165.26 L379.96,167.16 L380.31,168.66 L380.65,169.65 L381.00,170.00 L381.36,169.67 L381.71,168.81 L382.07,167.64 L382.43,166.36 L382.79,165.19 L383.14,164.33 L383.50,164.00 L383.86,165.10 L384.21,167.93 L384.57,171.79 L384.93,176.01 L385.29,179.87 L385.64,182.70 L386.00,183.80 L386.34,182.80 L386.67,180.07 L387.01,175.99 L387.35,170.94 L387.68,165.31 L388.02,159.49 L388.35,153.86 L388.69,148.81 L389.03,144.73 L389.36,142.00 L389.70,141.00 L390.07,142.37 L390.43,146.05 L390.80,151.37 L391.17,157.68 L391.53,164.32 L391.90,170.63 L392.27,175.95 L392.63,179.63 L393.00,181.00 L393.36,180.03 L393.72,177.41 L394.08,173.55 L394.44,168.86 L394.80,163.75 L395.16,158.64 L395.52,153.95 L395.88,150.09 L396.24,147.47 L396.60,146.50 L396.94,146.99 L397.28,148.35 L397.62,150.41 L397.97,152.98 L398.31,155.90 L398.65,159.00 L398.99,162.10 L399.33,165.02 L399.68,167.59 L400.02,169.65 L400.36,171.01 L400.70,171.50 L401.05,171.24 L401.40,170.59 L401.75,169.75 L402.10,168.91 L402.45,168.26 L402.80,168.00 L403.17,168.15 L403.53,168.52 L403.90,169.00 L404.27,169.48 L404.63,169.85 L405.00,170.00 L405.35,169.83 L405.69,169.36 L406.04,168.64 L406.39,167.70 L406.73,166.60 L407.08,165.39 L407.43,164.10 L407.77,162.80 L408.12,161.51 L408.47,160.30 L408.81,159.20 L409.16,158.26 L409.51,157.54 L409.85,157.07 L410.20,156.90 L410.55,157.17 L410.89,157.91 L411.24,159.02 L411.58,160.39 L411.93,161.91 L412.27,163.49 L412.62,165.01 L412.96,166.38 L413.31,167.49 L413.65,168.23 L414.00,168.50 L414.35,168.36 L414.69,167.96 L415.04,167.35 L415.38,166.58 L415.73,165.70 L416.08,164.74 L416.42,163.76 L416.77,162.80 L417.12,161.92 L417.46,161.15 L417.81,160.54 L418.15,160.14 L418.50,160.00 L418.83,160.27 L419.17,161.02 L419.50,162.18 L419.83,163.68 L420.17,165.44 L420.50,167.39 L420.83,169.45 L421.17,171.55 L421.50,173.61 L421.83,175.56 L422.17,177.32 L422.50,178.82 L422.83,179.98 L423.17,180.73 L423.50,181.00 L423.84,180.44 L424.18,178.88 L424.52,176.47 L424.86,173.35 L425.20,169.70 L425.54,165.65 L425.88,161.38 L426.22,157.02 L426.56,152.75 L426.90,148.70 L427.24,145.05 L427.58,141.93 L427.92,139.52 L428.26,137.96 L428.60,137.40 L428.94,138.66 L429.28,142.07 L429.62,147.10 L429.96,153.20 L430.30,159.85 L430.64,166.50 L430.98,172.60 L431.32,177.63 L431.66,181.04 L432.00,182.30 L432.33,181.76 L432.67,180.28 L433.00,178.03 L433.33,175.22 L433.67,172.03 L434.00,168.65 L434.33,165.27 L434.67,162.08 L435.00,159.27 L435.33,157.02 L435.67,155.54 L436.00,155.00 L436.35,155.64 L436.70,157.39 L437.05,159.97 L437.40,163.10 L437.75,166.50 L438.10,169.90 L438.45,173.03 L438.80,175.61 L439.15,177.36 L439.50,178.00 L439.85,177.16 L440.20,174.88 L440.55,171.52 L440.90,167.44 L441.25,163.00 L441.60,158.56 L441.95,154.48 L442.30,151.12 L442.65,148.84 L443.00,148.00 L443.35,148.78 L443.70,150.91 L444.05,154.05 L444.40,157.86 L444.75,162.00 L445.10,166.14 L445.45,169.95 L445.80,173.09 L446.15,175.22 L446.50,176.00 L446.85,175.50 L447.20,174.13 L447.55,172.11 L447.90,169.66 L448.25,167.00 L448.60,164.34 L448.95,161.89 L449.30,159.87 L449.65,158.50 L450.00,158.00 L450.34,158.60 L450.68,160.24 L451.02,162.64 L451.36,165.57 L451.70,168.75 L452.04,171.93 L452.38,174.86 L452.72,177.26 L453.06,178.90 L453.40,179.50 L453.75,178.71 L454.09,176.53 L454.44,173.27 L454.78,169.25 L455.13,164.77 L455.47,160.13 L455.82,155.65 L456.16,151.63 L456.51,148.37 L456.85,146.19 L457.20,145.40 L457.55,146.11 L457.89,148.07 L458.24,150.99 L458.58,154.60 L458.93,158.62 L459.27,162.78 L459.62,166.80 L459.96,170.41 L460.31,173.33 L460.65,175.29 L461.00,176.00 L461.33,175.80 L461.67,175.24 L462.00,174.34 L462.33,173.15 L462.67,171.71 L463.00,170.05 L463.33,168.22 L463.67,166.26 L464.00,164.19 L464.33,162.07 L464.67,159.93 L465.00,157.81 L465.33,155.74 L465.67,153.78 L466.00,151.95 L466.33,150.29 L466.67,148.85 L467.00,147.66 L467.33,146.76 L467.67,146.20 L468.00,146.00 L468.35,146.65 L468.70,148.46 L469.05,151.24 L469.40,154.80 L469.75,158.94 L470.10,163.48 L470.45,168.20 L470.80,172.92 L471.15,177.46 L471.50,181.60 L471.85,185.16 L472.20,187.94 L472.55,189.75 L472.90,190.40 L473.24,189.64 L473.59,187.53 L473.93,184.28 L474.27,180.13 L474.61,175.30 L474.96,170.01 L475.30,164.50 L475.64,158.99 L475.99,153.70 L476.33,148.87 L476.67,144.72 L477.01,141.47 L477.36,139.36 L477.70,138.60 L478.06,139.22 L478.42,140.93 L478.77,143.51 L479.13,146.74 L479.49,150.41 L479.85,154.30 L480.21,158.19 L480.57,161.86 L480.93,165.09 L481.28,167.67 L481.64,169.38 L482.00,170.00 L482.33,169.66 L482.67,168.74 L483.00,167.41 L483.33,165.83 L483.67,164.17 L484.00,162.59 L484.33,161.26 L484.67,160.34 L485.00,160.00 L485.33,160.59 L485.67,162.07 L486.00,164.00 L486.33,165.93 L486.67,167.41 L487.00,168.00 L487.36,167.00 L487.71,164.43 L488.07,160.92 L488.43,157.08 L488.79,153.57 L489.14,151.00 L489.50,150.00 L489.84,151.13 L490.19,154.16 L490.53,158.56 L490.88,163.76 L491.22,169.24 L491.57,174.44 L491.91,178.84 L492.26,181.87 L492.60,183.00 L492.94,182.42 L493.28,180.80 L493.62,178.32 L493.95,175.19 L494.29,171.58 L494.63,167.69 L494.97,163.71 L495.31,159.82 L495.65,156.21 L495.98,153.08 L496.32,150.60 L496.66,148.98 L497.00,148.40 L497.34,148.71 L497.69,149.59 L498.03,150.95 L498.38,152.71 L498.72,154.80 L499.06,157.13 L499.41,159.63 L499.75,162.20 L500.09,164.77 L500.44,167.27 L500.78,169.60 L501.12,171.69 L501.47,173.45 L501.81,174.81 L502.16,175.69 L502.50,176.00 L502.84,175.69 L503.18,174.80 L503.52,173.42 L503.86,171.62 L504.21,169.47 L504.55,167.06 L504.89,164.45 L505.23,161.73 L505.57,158.97 L505.91,156.25 L506.25,153.64 L506.59,151.23 L506.94,149.08 L507.28,147.28 L507.62,145.90 L507.96,145.01 L508.30,144.70 L508.65,145.15 L508.99,146.42 L509.34,148.37 L509.69,150.89 L510.03,153.85 L510.38,157.13 L510.73,160.59 L511.07,164.11 L511.42,167.57 L511.77,170.85 L512.11,173.81 L512.46,176.33 L512.81,178.28 L513.15,179.55 L513.50,180.00 L513.85,179.63 L514.19,178.60 L514.54,177.03 L514.88,175.03 L515.23,172.74 L515.58,170.27 L515.92,167.73 L516.27,165.26 L516.62,162.97 L516.96,160.97 L517.31,159.40 L517.65,158.37 L518.00,158.00 L518.36,158.28 L518.71,158.99 L519.07,159.97 L519.43,161.03 L519.79,162.01 L520.14,162.72 L520.50,163.00 L520.86,162.61 L521.21,161.61 L521.57,160.24 L521.93,158.76 L522.29,157.39 L522.64,156.39 L523.00,156.00 L523.34,156.27 L523.69,157.03 L524.03,158.21 L524.38,159.75 L524.72,161.57 L525.06,163.59 L525.41,165.76 L525.75,168.00 L526.09,170.24 L526.44,172.41 L526.78,174.43 L527.12,176.25 L527.47,177.79 L527.81,178.97 L528.16,179.73 L528.50,180.00 L528.84,179.15 L529.18,176.79 L529.52,173.23 L529.87,168.77 L530.21,163.71 L530.55,158.35 L530.89,152.99 L531.23,147.93 L531.58,143.47 L531.92,139.91 L532.26,137.55 L532.60,136.70 L532.95,137.27 L533.30,138.88 L533.65,141.34 L534.00,144.49 L534.35,148.16 L534.70,152.17 L535.05,156.35 L535.40,160.53 L535.75,164.54 L536.10,168.21 L536.45,171.36 L536.80,173.82 L537.15,175.43 L537.50,176.00 L537.83,175.56 L538.17,174.44 L538.50,173.00 L538.83,171.56 L539.17,170.44 L539.50,170.00" stroke="#EDB120" stroke-width="0.9" stroke-opacity="0.85"/>
<path d="M347.50,164.39 L347.80,164.38 L348.10,164.37 L348.40,164.35 L348.70,164.31 L349.00,164.26 L349.30,164.19 L349.60,164.07 L349.90,163.91 L350.20,163.68 L350.50,163.36 L350.80,162.91 L351.10,162.31 L351.40,161.51 L351.70,160.48 L352.00,159.17 L352.30,157.53 L352.60,155.52 L352.90,153.12 L353.20,150.30 L353.50,147.06 L353.80,143.43 L354.10,139.46 L354.40,135.22 L354.70,130.81 L355.00,126.38 L355.30,122.07 L355.60,118.04 L355.90,114.46 L356.20,111.49 L356.50,109.25 L356.80,107.87 L357.10,107.40 L357.44,109.44 L357.79,115.16 L358.13,123.93 L358.47,135.16 L358.81,148.22 L359.16,162.50 L359.50,177.40 L359.84,192.30 L360.19,206.58 L360.53,219.64 L360.87,230.87 L361.21,239.64 L361.56,245.36 L361.90,247.40 L362.24,245.67 L362.58,240.84 L362.92,233.49 L363.25,224.17 L363.59,213.44 L363.93,201.87 L364.27,190.03 L364.61,178.46 L364.95,167.73 L365.28,158.41 L365.62,151.06 L365.96,146.23 L366.30,144.50" stroke="#E0A52A" stroke-width="0.9" stroke-opacity="0.6"/>
<path d="M76.1,164.4 H348" stroke="#EDB120" stroke-width="1" stroke-opacity="0.55"/>
</g>
<text x="76.10" y="341.9" font-size="17.2" text-anchor="middle">0</text>
<text x="131.75" y="341.9" font-size="17.2" text-anchor="middle">100</text>
<text x="187.40" y="341.9" font-size="17.2" text-anchor="middle">200</text>
<text x="243.05" y="341.9" font-size="17.2" text-anchor="middle">300</text>
<text x="298.70" y="341.9" font-size="17.2" text-anchor="middle">400</text>
<text x="354.35" y="341.9" font-size="17.2" text-anchor="middle">500</text>
<text x="410.00" y="341.9" font-size="17.2" text-anchor="middle">600</text>
<text x="465.65" y="341.9" font-size="17.2" text-anchor="middle">700</text>
<text x="521.30" y="341.9" font-size="17.2" text-anchor="middle">800</text>
<text x="70.2" y="30.85" font-size="17.2" text-anchor="end">0.1</text>
<text x="70.2" y="101.05" font-size="17.2" text-anchor="end">0.05</text>
<text x="70.2" y="171.25" font-size="17.2" text-anchor="end">0</text>
<text x="70.2" y="241.45" font-size="17.2" text-anchor="end">−<tspan dx="-1.1">0.05</tspan></text>
<text x="70.2" y="311.65" font-size="17.2" text-anchor="end">−<tspan dx="-1.1">0.1</tspan></text>
<text x="307.78" y="363.6" font-size="16.8" text-anchor="middle">Time (µs)</text>
<text transform="translate(20.3,164.3) rotate(-90)" font-size="17.2" text-anchor="middle" textLength="214.5" lengthAdjust="spacing">Displacement (normalized)</text>
<rect x="327.1" y="18.5" width="203.69999999999993" height="63.3" fill="#fff"/>
<path d="M327.1,81.8 V18.5 H530.8" fill="none" stroke="#7c7c7c" stroke-width="1.0" stroke-linecap="square"/>
<path d="M327.1,81.8 H530.8 V18.5" fill="none" stroke="#a4a4a4" stroke-width="1.7" stroke-linecap="butt"/>
<path d="M331.1,30.3 H363" stroke="#0072BD" stroke-width="1.2" stroke-opacity="0.55" fill="none"/>
<text x="367.0" y="35.9" font-size="15.4" textLength="110.1" lengthAdjust="spacing">1 single sensor</text>
<path d="M331.1,50.2 H363" stroke="#D95319" stroke-width="1.2" stroke-opacity="0.55" fill="none"/>
<text x="367.0" y="55.800000000000004" font-size="15.4" textLength="150.3" lengthAdjust="spacing">12 sensors (average)</text>
<path d="M331.1,70.4 H363" stroke="#EDB120" stroke-width="1.2" stroke-opacity="0.55" fill="none"/>
<text x="367.0" y="76.0" font-size="15.4" textLength="158.6" lengthAdjust="spacing">100 sensors (average)</text>
</svg></body></html>
